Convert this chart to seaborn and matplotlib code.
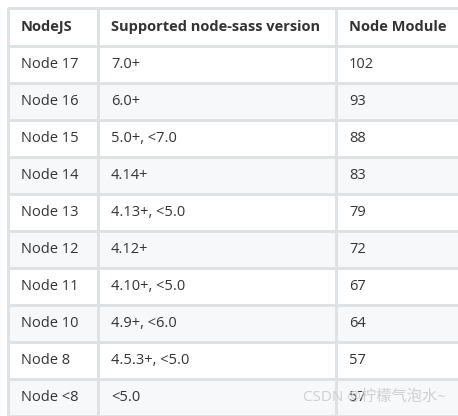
import matplotlib
matplotlib.use("Agg")
import matplotlib.pyplot as plt
import seaborn as sns
import numpy as np

sns.set_theme(style="white")
plt.rcParams['font.family'] = ['Open Sans', 'Noto Sans CJK SC', 'DejaVu Sans']

headers = ["NodeJS", "Supported node-sass version", "Node Module"]
nodejs = ["Node 17", "Node 16", "Node 15", "Node 14", "Node 13", "Node 12",
          "Node 11", "Node 10", "Node 8", "Node <8"]
sass = ["7.0+", "6.0+", "5.0+, <7.0", "4.14+", "4.13+, <5.0", "4.12+",
        "4.10+, <5.0", "4.9+, <6.0", "4.5.3+, <5.0", "<5.0"]
module = ["102", "93", "88", "83", "79", "72", "67", "64", "57", "57"]

x_edges = [8, 98, 336, 470]
y_edges = [8, 46] + [46 + 37 * (i + 1) for i in range(len(nodejs))]

fig = plt.figure(figsize=(4.58, 4.16), dpi=100)
ax = fig.add_axes([0, 0, 1, 1])
ax.set_xlim(0, 458)
ax.set_ylim(416, 0)
ax.axis("off")

shade = np.array([[0] * 3] + [[i % 2] * 3 for i in range(len(nodejs))])
cmap = matplotlib.colors.ListedColormap(["#ffffff", "#f6f8fa"])
ax.pcolormesh(x_edges, y_edges, shade, cmap=cmap, vmin=0, vmax=1,
              edgecolor="#dfe2e5", linewidth=1)

tc = "#333333"
for j, h in enumerate(headers):
    ax.text(x_edges[j] + 13, (y_edges[0] + y_edges[1]) / 2, h, ha="left",
            va="center", fontsize=10.5, fontweight="bold", color=tc)
for i in range(len(nodejs)):
    yc = (y_edges[i + 1] + y_edges[i + 2]) / 2
    for j, v in enumerate([nodejs[i], sass[i], module[i]]):
        ax.text(x_edges[j] + 13, yc, v, ha="left", va="center",
                fontsize=10.5, color=tc)

ax.text(446, 397, "CSDN @柠檬气泡水~", ha="right", va="center", fontsize=11,
        color="#cfcfcf")

fig.savefig("out.png", dpi=100)
